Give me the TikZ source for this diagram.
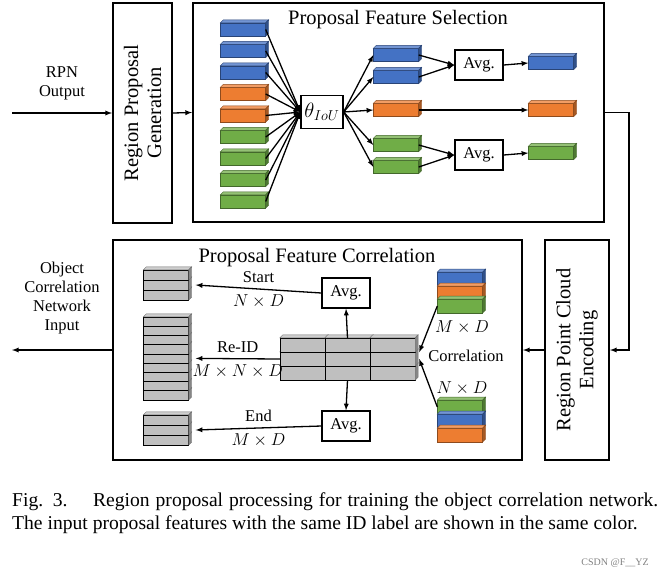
\documentclass[tikz,border=0pt]{standalone}
\usepackage{fontspec}
\setmainfont{Liberation Serif}
\usetikzlibrary{positioning}
\definecolor{fb}{HTML}{4472C4}
\definecolor{fo}{HTML}{ED7D31}
\definecolor{fg}{HTML}{70AD47}
\definecolor{fgr}{HTML}{BFBFBF}
% 3D faces on top of a bar node
\newcommand\cube[2]{%
  \filldraw[fill=#2!75!white,draw=#2!60!black] (#1.north west) -- ++(3,-3)
    -- ([shift={(3,-3)}]#1.north east) -- (#1.north east) -- cycle;
  \filldraw[fill=#2!70!black,draw=#2!60!black] (#1.north east) -- ++(3,-3)
    -- ([shift={(3,-3)}]#1.south east) -- (#1.south east) -- cycle;}
\begin{document}
\begin{tikzpicture}[x=1pt,y=-1pt,>=latex,
    blk/.style={draw,line width=2pt,inner sep=0pt},
    bar/.style={draw=#1!60!black,fill=#1,minimum width=45,minimum height=13,inner sep=0pt},
    lay/.style={draw,fill=fgr,minimum width=45,minimum height=#1,inner sep=0pt},
    avg/.style={draw,line width=1.3pt,minimum width=48,minimum height=30,font=\fontsize{16.5}{18}\selectfont},
    lab/.style={font=\fontsize{16.5}{19}\selectfont},
    ttl/.style={font=\fontsize{20.5}{23}\selectfont},
    conn/.style={->,line width=1.3pt}]
  \useasboundingbox (0,0) rectangle (660,573);
  % outer blocks
  \node[blk,minimum width=59,minimum height=220] (rpg) at (142.5,113) {};
  \node[ttl,rotate=90,align=center] at (rpg.center) {Region Proposal\\Generation};
  \node[blk,minimum width=411,minimum height=219] (fs) at (398.5,112.5) {};
  \node[ttl] at (398,20) {Proposal Feature Selection};
  \node[blk,minimum width=64,minimum height=220] (enc) at (577,350) {};
  \node[ttl,rotate=90,align=center] at (enc.center) {Region Point Cloud\\Encoding};
  \node[blk,minimum width=409,minimum height=220] (fc) at (317.5,350) {};
  \node[ttl] at (317,258) {Proposal Feature Correlation};
  \coordinate (rpn) at (12,113);
  \coordinate (out) at (12,350);
  \node[lab,align=center] at (62,83) {RPN\\Output};
  \node[lab,align=center] at (62,298) {Object\\Correlation\\Network\\Input};
  \draw[conn] (rpn) -- (rpg.west);
  \draw[conn] (rpg.east) -- (fs.west);
  \draw[conn] (fs.east) -- ++(24,0) |- (enc.east);
  \draw[conn] (enc.west) -- (fc.east);
  \draw[conn] (fc.west) -- (out);
  % selection
  \node[draw,line width=1.3pt,minimum width=42,minimum height=33,inner sep=1pt,font=\fontsize{20}{22}\selectfont] (theta) at (322,112) {$\theta_{IoU}$};
  \foreach \c [count=\i] in {fb,fb,fb,fo,fo,fg,fg,fg,fg} {
    \node[bar=\c] (l\i) at (243,{8+21.5*\i}) {};
    \cube{l\i}{\c}
    \draw[conn] (l\i.east) -- (theta.west);
  }
  \foreach \c/\y [count=\i] in {fb/55,fb/77,fo/110,fg/145,fg/167} {
    \node[bar=\c] (m\i) at (396,\y) {};
    \cube{m\i}{\c}
    \draw[conn] (theta.east) -- (m\i.west);
  }
  \node[avg] (a1) at (479,65) {Avg.};
  \node[avg] (a2) at (479,155) {Avg.};
  \foreach \c/\y [count=\i] in {fb/63,fo/110,fg/153} {
    \node[bar=\c] (o\i) at (551,\y) {};
    \cube{o\i}{\c}
  }
  \draw[conn] (m1.east) -- (a1.west);
  \draw[conn] (m2.east) -- (a1.west);
  \draw[conn] (m4.east) -- (a2.west);
  \draw[conn] (m5.east) -- (a2.west);
  \draw[conn] (m3.east) -- (o2.west);
  \draw[conn] (a1.east) -- (o1.west);
  \draw[conn] (a2.east) -- (o3.west);
  % correlation
  \foreach \k in {3,2,1} {
    \node[lay=10] (t\k) at (166,{265+10*\k}) {};
    \cube{t\k}{fgr}
    \node[lay=10] (b\k) at (166,{410+10*\k}) {};
    \cube{b\k}{fgr}
  }
  \foreach \k in {9,...,1} {
    \node[lay=9.2] (r\k) at (166,{312.4+9.2*\k}) {};
    \cube{r\k}{fgr}
  }
  \foreach \r in {3,2,1} {
    \foreach \c in {1,2,3} {
      \node[lay=14] (g\r\c) at ({257.5+45*\c},{331+14*\r}) {};
      \cube{g\r\c}{fgr}
    }
  }
  \node[avg] (ca1) at (346,293) {Avg.};
  \node[avg] (ca2) at (346,426) {Avg.};
  \draw[conn] (g12.north) -- (ca1.south);
  \draw[conn] (g32.south) -- (ca2.north);
  \draw[conn] (ca1.west) -- ([xshift=7]t2.east)
    node[lab,midway,above=2pt] {Start} node[lab,midway,below=2pt] {$N\times D$};
  \draw[conn] (g21.west) -- ([xshift=7]r5.east)
    node[lab,midway,above=2pt] {Re-ID} node[lab,midway,below=2pt] {$M\times N\times D$};
  \draw[conn] (ca2.west) -- ([xshift=7]b2.east)
    node[lab,midway,above=2pt] {End} node[lab,midway,below=2pt] {$M\times D$};
  \foreach \c/\y [count=\i] in {fb/279,fo/293,fg/306} {
    \node[bar=\c,minimum height=13.5] (c\i) at (460,\y) {};
  }
  \cube{c1}{fb} \cube{c2}{fo} \cube{c3}{fg}
  \foreach \c/\y [count=\i] in {fg/407,fb/421,fo/435} {
    \node[bar=\c,minimum height=13.5] (d\i) at (460,\y) {};
  }
  \cube{d1}{fg} \cube{d2}{fb} \cube{d3}{fo}
  \draw[conn] (c3.west) -- ([xshift=4]g13.south east);
  \draw[conn] (d1.west) -- ([xshift=4]g23.east);
  \node[lab] at (462,327) {$M\times D$};
  \node[lab] at (466,356) {Correlation};
  \node[lab] at (462,388) {$N\times D$};
  % caption
  \node[anchor=north west,text width=646,align=justify,inner sep=0pt,
    font=\fontsize{19.6}{23.5}\selectfont] (cap) at (12,492)
    {Fig. 3.\quad\ Region proposal processing for training the object correlation network. The input proposal features with the same ID label are shown in the same color.};
  \node[font=\fontsize{10}{11}\selectfont,text=gray] (wm) at (615,563) {CSDN @F\_\_YZ};
\end{tikzpicture}
\end{document}
